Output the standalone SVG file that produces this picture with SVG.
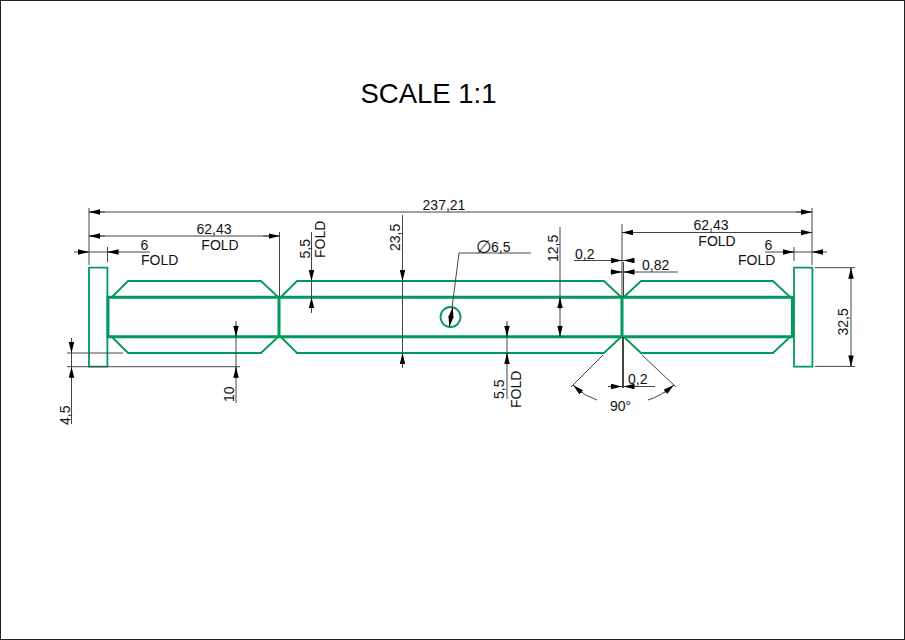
<svg xmlns="http://www.w3.org/2000/svg" width="905" height="640" viewBox="0 0 905 640">
<style>
text{font-family:"Liberation Sans",Arial,sans-serif;font-size:14px;fill:#111}
.t{font-size:27.5px;fill:#000}
.m{text-anchor:middle}
.o{fill:none;stroke:#009a5c;stroke-width:1.8;stroke-linejoin:round}
.f{fill:none;stroke:#009a5c;stroke-width:3}
.d{fill:none;stroke:#444;stroke-width:1}
.a{fill:none;stroke:#444;stroke-width:1;marker-end:url(#h)}
</style>
<defs>
<marker id="h" markerUnits="userSpaceOnUse" markerWidth="12" markerHeight="6" refX="11" refY="2.75" orient="auto"><path d="M0 0L11 2.75L0 5.5Z" fill="#000"/></marker>
</defs>
<rect x=".5" y=".5" width="904" height="639" fill="#fff" stroke="#222" stroke-width="1"/>
<text class="t" x="360.500" y="103">SCALE 1:1</text>

<g id="tab-left"><rect class="o" x="89" y="267.7" width="18.4" height="99"/></g>
<g id="panel-left">
<path class="o" d="M112 297L128 281H261L278 297M112 337L128 353H261L278 337"/>
<path class="f" d="M108 297.3H279M108 336.7H279M108 296V338M279 296V338"/>
</g>
<g id="panel-center">
<path class="o" d="M281 297L297 281H604L621 297M281 337L297 353H604L621 337"/>
<path class="f" d="M279 297.3H622M279 336.7H622M622 296V338"/>
<circle class="o" cx="450.5" cy="317" r="10"/>
</g>
<g id="panel-right">
<path class="o" d="M624 297L641 281H773L790 297M624 337L641 353H773L790 337"/>
<path class="f" d="M622 297.3H792.5M622 336.7H792.5M792.5 296V338"/>
</g>
<g id="tab-right"><rect class="o" x="794" y="267.7" width="18.4" height="99"/></g>

<g id="connectors">
<path class="d" d="M89 208V265M812 208V265M279.5 232V297M107.5 247V262M794 247V261M622 224V297M623.5 262V297"/>
<path class="d" d="M89 212H812M89 236H279.5M74 252H150M622 232.500H812M765 252H827"/>
<path class="a" d="M105 212H89"/><path class="a" d="M796 212H812"/>
<path class="a" d="M105 236H89"/><path class="a" d="M263 236H279.5"/>
<path class="a" d="M78 252H89"/><path class="a" d="M119 252H107.5"/>
<path class="a" d="M638 232.500H622"/><path class="a" d="M796 232.500H812"/>
<path class="a" d="M783 252H794"/><path class="a" d="M823 252H812"/>

<path class="d" d="M67 353H123M67 366.7H240M71.5 338V424"/>
<path class="a" d="M71.5 342V353"/><path class="a" d="M71.5 378V366.7"/>
<path class="d" d="M236 321V403"/>
<path class="a" d="M236 325V336.7"/><path class="a" d="M236 378V366.7"/>

<path class="d" d="M311.5 232V313"/>
<path class="a" d="M311.5 270V281"/><path class="a" d="M311.5 308V297.3"/>
<path class="d" d="M402.5 215V368"/>
<path class="a" d="M402.5 270V281"/><path class="a" d="M402.5 364V353"/>
<path class="d" d="M531 253H459L452 308"/>
<path class="a" d="M451 317L452.7 307"/><path class="a" d="M451 317L449.3 327"/>
<path class="d" d="M560 227V337"/>
<path class="a" d="M560 309V297.3"/><path class="a" d="M560 325V336.7"/>
<path class="d" d="M507 321V399"/>
<path class="a" d="M507 325V336.7"/><path class="a" d="M507 364V353"/>

<path class="d" d="M574 260.5H633M610 272H678"/>
<path class="a" d="M611 260.5H622"/><path class="a" d="M633 260.5H623.5"/>
<path class="a" d="M611 272H622"/><path class="a" d="M634 272H623.5"/>
<path class="d" d="M622.5 337V388M623.5 337V388M608 386.5H655"/>
<path class="a" d="M609 386.5H622"/><path class="a" d="M636 386.5H623.5"/>
<path class="d" d="M603 355L571 387M642 355L676 387"/>
<path class="d" d="M597 400Q585 396 576 388M648 400Q661 396 671 387"/>
<path class="a" d="M582 393L573 385"/><path class="a" d="M664 393L674 385"/>

<path class="d" d="M815 267.7H855M815 366.4H855M851 267.7V366.4"/>
<path class="a" d="M851 279V267.7"/><path class="a" d="M851 355V366.4"/>
</g>

<g id="labels">
<text class="m" x="444" y="209.500">237,21</text>
<text class="m" x="214" y="233.500">62,43</text>
<text class="m" x="220" y="250">FOLD</text>
<text class="m" x="144.500" y="249.500">6</text>
<text x="141" y="265">FOLD</text>
<text class="m" x="711" y="230">62,43</text>
<text class="m" x="717" y="246">FOLD</text>
<text class="m" x="768.500" y="249.500">6</text>
<text x="738" y="265">FOLD</text>
<text transform="translate(69.500 425) rotate(-90)">4,5</text>
<text transform="translate(234 402) rotate(-90)">10</text>
<text transform="translate(309.500 258.500) rotate(-90)">5,5</text>
<text transform="translate(325 258) rotate(-90)">FOLD</text>
<text transform="translate(400 251) rotate(-90)">23,5</text>
<text transform="translate(557.500 262) rotate(-90)">12,5</text>
<text transform="translate(504 399) rotate(-90)">5,5</text>
<text transform="translate(520.500 408) rotate(-90)">FOLD</text>
<text transform="translate(848 335.500) rotate(-90)">32,5</text>
<text x="476" y="252.500" style="font-size:18px">∅</text>
<text x="491" y="251.500">6,5</text>
<text x="575" y="258.500">0,2</text>
<text x="642" y="270">0,82</text>
<text x="628" y="384">0,2</text>
<text x="610" y="410.500">90°</text>
</g>
</svg>
